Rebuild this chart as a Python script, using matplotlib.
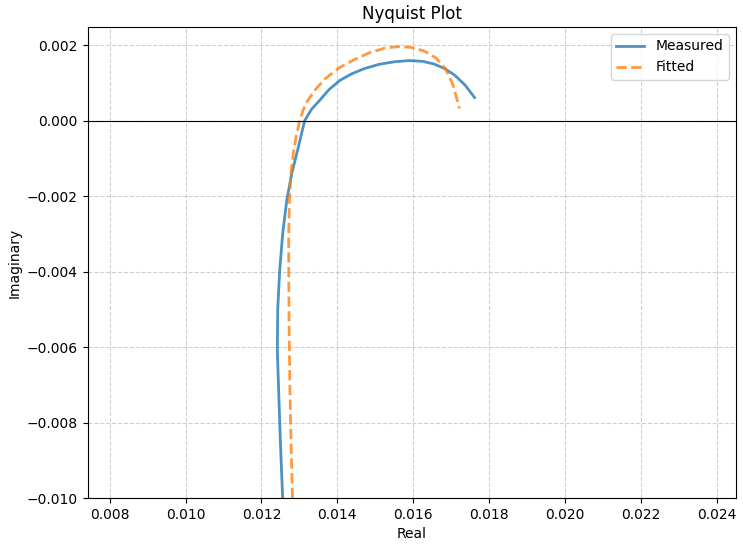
import numpy as np
import matplotlib.pyplot as plt

# values
measured_real = [0.01256, 0.01250, 0.01245, 0.01242, 0.01243, 0.01248, 0.01256, 0.01267, 0.01280,
                 0.01295, 0.01314, 0.01332, 0.01353, 0.01378, 0.01406, 0.01438, 0.01472, 0.01510,
                 0.01551, 0.01590, 0.01625, 0.01655, 0.01683, 0.01710, 0.01737, 0.01762]
measured_imag = [-0.0100, -0.0085, -0.0070, -0.0061, -0.0050, -0.0040, -0.0030, -0.0021, -0.0014,
                 -0.0008, 0.0000, 0.00030, 0.00053, 0.00082, 0.00106, 0.00124, 0.00138, 0.00149,
                 0.00156, 0.00159, 0.00157, 0.00150, 0.00138, 0.00120, 0.00094, 0.00061]

fitted_real = [0.01282, 0.01278, 0.01275, 0.01273, 0.01272, 0.01272, 0.01274, 0.01278, 0.01285,
               0.01292, 0.01301, 0.01310, 0.01322, 0.01342, 0.01367, 0.01405, 0.01446, 0.01485,
               0.01525, 0.01560, 0.01595, 0.01630, 0.01660, 0.01685, 0.01705, 0.01722]
fitted_imag = [-0.0100, -0.0085, -0.0070, -0.0055, -0.0040, -0.0030, -0.0021, -0.0014, -0.0008,
               -0.0004, 0.0000, 0.00028, 0.00053, 0.00082, 0.00110, 0.00140, 0.00162, 0.00180,
               0.00192, 0.00196, 0.00194, 0.00184, 0.00166, 0.00138, 0.00095, 0.00032]

fig = plt.figure(figsize=(7.43, 5.51), dpi=100)
ax = fig.add_axes([0.118, 0.096, 0.872, 0.855])
ax.plot(measured_real, measured_imag, '-', lw=2, alpha=0.8, label='Measured')
ax.plot(fitted_real, fitted_imag, '--', lw=2, alpha=0.8, label='Fitted')
ax.axhline(0, color='black', lw=0.8)
ax.set_xlim(0.00742, 0.0245)
ax.set_ylim(-0.010, 0.00248)
ax.set_xticks(np.arange(0.008, 0.0241, 0.002))
ax.grid(True, linestyle='--', alpha=0.6)
ax.set_xlabel('Real')
ax.set_ylabel('Imaginary')
ax.set_title('Nyquist Plot')
ax.legend(loc='upper right')
fig.savefig('out.png', dpi=100)
